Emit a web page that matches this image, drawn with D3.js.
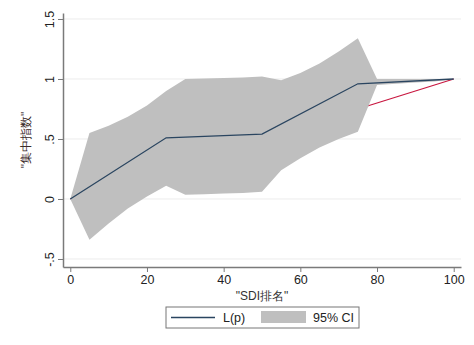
<!DOCTYPE html>
<html>
<head>
<meta charset="utf-8">
<script src="https://cdn.jsdelivr.net/npm/d3@7"></script>
<style>
  html, body { margin: 0; padding: 0; background: #ffffff; }
  svg { display: block; font-family: "Liberation Sans", Arial, sans-serif; }
</style>
</head>
<body>
<svg id="chart" width="474" height="345"></svg>
<script>
// Concentration curve L(p) with 95% confidence band, plus line of equality
const ciX     = [0, 5, 10, 15, 20, 25, 30, 35, 40, 45, 50, 55, 60, 65, 70, 75, 80, 85, 90, 95, 100];
const ciUpper = [0, 0.55, 0.61, 0.685, 0.78, 0.90, 1.0, 1.005, 1.008, 1.012, 1.02, 0.99, 1.05, 1.13, 1.23, 1.34, 1.0, 1.0, 1.0, 1.0, 1.0];
const ciLower = [0, -0.34, -0.205, -0.08, 0.02, 0.11, 0.035, 0.04, 0.045, 0.05, 0.06, 0.24, 0.34, 0.43, 0.50, 0.56, 0.95, 0.96, 0.97, 0.98, 1.0];

const lpX = [0, 25, 50, 75, 100];
const lpY = [0, 0.51, 0.54, 0.96, 1.0];

const equalX = [0, 100];
const equalY = [0, 1];

const xTicks = [0, 20, 40, 60, 80, 100];
const yTicks = [-0.5, 0, 0.5, 1, 1.5];
const yTickLabels = ["-.5", "0", ".5", "1", "1.5"];

const xTitle = "\"SDI排名\"";
const yTitle = "\"集中指数\"";
const legendLabels = ["L(p)", "95% CI"];

const svg = d3.select("#chart");

// Axis domains are padded slightly beyond the data range
const x = d3.scaleLinear().domain([-1.9, 101.9]).range([63, 461]);
const y = d3.scaleLinear().domain([-0.5667, 1.55]).range([267, 13]);

const axisColor = "#7a7a7a";
const textColor = "#222222";

// Horizontal gridlines
svg.append("g")
  .selectAll("line")
  .data(yTicks)
  .join("line")
  .attr("x1", x.range()[0]).attr("x2", x.range()[1])
  .attr("y1", d => y(d)).attr("y2", d => y(d))
  .attr("stroke", "#ececec")
  .attr("stroke-width", 1);

// Line of equality (drawn underneath the band)
const line = d3.line().x(d => x(d[0])).y(d => y(d[1]));
svg.append("path")
  .datum(d3.zip(equalX, equalY))
  .attr("d", line)
  .attr("fill", "none")
  .attr("stroke", "#c8163f")
  .attr("stroke-width", 1.2);

// Confidence band
const area = d3.area()
  .x(d => x(d[0]))
  .y0(d => y(d[1]))
  .y1(d => y(d[2]));
svg.append("path")
  .datum(d3.zip(ciX, ciLower, ciUpper))
  .attr("d", area)
  .attr("fill", "#bfbfbf");

// L(p) curve
svg.append("path")
  .datum(d3.zip(lpX, lpY))
  .attr("d", line)
  .attr("fill", "none")
  .attr("stroke", "#2a4560")
  .attr("stroke-width", 1.3);

// Y axis
const yAxis = svg.append("g")
  .attr("transform", `translate(${x.range()[0]},0)`)
  .call(d3.axisLeft(y).tickValues(yTicks).tickSize(5).tickSizeOuter(0)
    .tickFormat((d, i) => yTickLabels[i]));
yAxis.select(".domain").attr("stroke", axisColor).attr("stroke-width", 1.5);
yAxis.selectAll(".tick line").attr("stroke", axisColor);
yAxis.selectAll(".tick text")
  .attr("fill", textColor)
  .attr("font-size", 12.5)
  .attr("text-anchor", "middle")
  .attr("transform", "rotate(-90)")
  .attr("x", 0)
  .attr("y", -9)
  .attr("dy", "0");

// X axis
const xAxis = svg.append("g")
  .attr("transform", `translate(0,${y.range()[0]})`)
  .call(d3.axisBottom(x).tickValues(xTicks).tickSize(5).tickSizeOuter(0));
xAxis.select(".domain").attr("stroke", axisColor).attr("stroke-width", 1.5);
xAxis.selectAll(".tick line").attr("stroke", axisColor);
xAxis.selectAll(".tick text")
  .attr("fill", textColor)
  .attr("font-size", 12.5)
  .attr("y", 8)
  .attr("dy", "0.71em");

// Axis titles
svg.append("text")
  .attr("x", (x(0) + x(100)) / 2)
  .attr("y", 300)
  .attr("text-anchor", "middle")
  .attr("font-size", 12)
  .attr("fill", "#333333")
  .text(xTitle);

svg.append("text")
  .attr("transform", `translate(30,${(y.range()[0] + y.range()[1]) / 2}) rotate(-90)`)
  .attr("text-anchor", "middle")
  .attr("font-size", 12)
  .attr("fill", "#3a2a2a")
  .text(yTitle);

// Legend
const legend = svg.append("g");
legend.append("rect")
  .attr("x", 166).attr("y", 307)
  .attr("width", 193).attr("height", 21)
  .attr("fill", "#ffffff")
  .attr("stroke", "#777777")
  .attr("stroke-width", 1);
legend.append("line")
  .attr("x1", 171).attr("x2", 215)
  .attr("y1", 317.5).attr("y2", 317.5)
  .attr("stroke", "#2a4560")
  .attr("stroke-width", 1.3);
legend.append("text")
  .attr("x", 223).attr("y", 322)
  .attr("font-size", 12.5)
  .attr("fill", textColor)
  .text(legendLabels[0]);
legend.append("rect")
  .attr("x", 261).attr("y", 311)
  .attr("width", 45).attr("height", 12)
  .attr("fill", "#bfbfbf");
legend.append("text")
  .attr("x", 313).attr("y", 322)
  .attr("font-size", 12.5)
  .attr("fill", textColor)
  .text(legendLabels[1]);
</script>
</body>
</html>
